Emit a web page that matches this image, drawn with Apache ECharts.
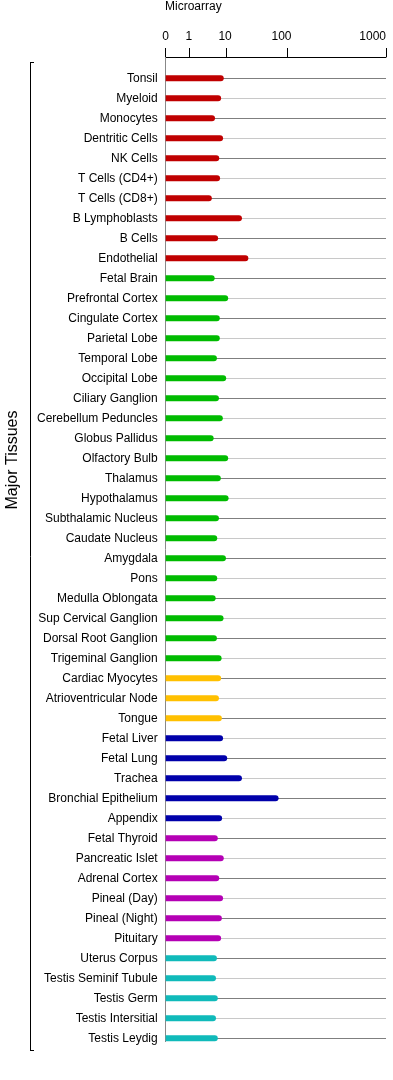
<!DOCTYPE html>
<html>
<head>
<meta charset="utf-8">
<script src="https://cdn.jsdelivr.net/npm/echarts@6/dist/echarts.min.js"></script>
<style>
html,body{margin:0;padding:0;background:#fff;}
#chart{width:393px;height:1080px;}
</style>
</head>
<body>
<div id="chart"></div>
<script>
// ---- data ----
const categories = [
  'Tonsil','Myeloid','Monocytes','Dentritic Cells','NK Cells','T Cells (CD4+)','T Cells (CD8+)','B Lymphoblasts','B Cells','Endothelial',
  'Fetal Brain','Prefrontal Cortex','Cingulate Cortex','Parietal Lobe','Temporal Lobe','Occipital Lobe','Ciliary Ganglion','Cerebellum Peduncles','Globus Pallidus','Olfactory Bulb',
  'Thalamus','Hypothalamus','Subthalamic Nucleus','Caudate Nucleus','Amygdala','Pons','Medulla Oblongata','Sup Cervical Ganglion','Dorsal Root Ganglion','Trigeminal Ganglion',
  'Cardiac Myocytes','Atrioventricular Node','Tongue',
  'Fetal Liver','Fetal Lung','Trachea','Bronchial Epithelium','Appendix',
  'Fetal Thyroid','Pancreatic Islet','Adrenal Cortex','Pineal (Day)','Pineal (Night)','Pituitary',
  'Uterus Corpus','Testis Seminif Tubule','Testis Germ','Testis Intersitial','Testis Leydig'
];
const values = [
  8.7, 7.6, 5.5, 8.4, 6.9, 7.2, 4.6, 20, 6.5, 26,
  5.4, 10.8, 7.1, 7.1, 6.1, 9.8, 6.8, 8.3, 5.1, 10.8,
  7.5, 11, 6.8, 6.2, 9.7, 6.2, 5.7, 8.6, 6.1, 7.8,
  7.6, 6.8, 7.9,
  8.4, 10.3, 20, 76, 8.0,
  6.4, 8.7, 6.9, 8.4, 7.9, 7.6,
  6.1, 5.8, 6.4, 5.8, 6.4
];
const groupSizes = [10, 20, 3, 5, 6, 5];
const groupColors = ['#c00000', '#00bb00', '#ffc000', '#0000aa', '#b400b4', '#10baba'];
const tickValues = [0, 1, 10, 100, 1000];
const tickLabels = ['0', '1', '10', '100', '1000'];
const axisTitle = 'Microarray';
const groupTitle = 'Major Tissues';

// ---- custom scale: 0..1 linear, then decades with widths growing by the golden ratio ----
const PHI = (1 + Math.sqrt(5)) / 2;
function scalePos(v) {
  if (v <= 1) return v;
  const i = 1 + Math.log10(v);
  return (Math.pow(PHI, i) - 1) / (PHI - 1);
}
const tickPos = tickValues.map(scalePos);
const maxPos = scalePos(tickValues[tickValues.length - 1]);

const colors = [];
groupSizes.forEach((n, g) => { for (let k = 0; k < n; k++) colors.push(groupColors[g]); });

const FONT = "'Liberation Sans', Arial, sans-serif";
const chart = echarts.init(document.getElementById('chart'), null, {renderer: 'canvas'});
chart.setOption({
  animation: false,
  backgroundColor: '#fff',
  title: {
    text: axisTitle, left: 165, top: 1, padding: 0,
    textStyle: {fontSize: 12, fontWeight: 'normal', color: '#000', fontFamily: FONT}
  },
  grid: [
    {left: 165.7, width: 220.3, top: 78.3, height: 960, outerBoundsMode: 'none', containLabel: false},
    {left: 30, width: 10, top: 62.7, height: 987.3, outerBoundsMode: 'none', containLabel: false},
    {left: 30, width: 10, top: 360, height: 200, outerBoundsMode: 'none', containLabel: false}
  ],
  xAxis: [
    {
      type: 'value', gridIndex: 0, position: 'top', offset: 21.3,
      min: 0, max: maxPos,
      axisLine: {show: true, lineStyle: {color: '#000', width: 1}},
      axisTick: {show: true, customValues: tickPos, length: 9, lineStyle: {color: '#000'}},
      axisLabel: {
        show: true, customValues: tickPos, margin: 14, alignMaxLabel: 'right',
        fontSize: 12, color: '#000', fontFamily: FONT,
        formatter: function (val) {
          let best = 0;
          tickPos.forEach((p, i) => { if (Math.abs(p - val) < Math.abs(tickPos[best] - val)) best = i; });
          return '{t' + best + '|' + tickLabels[best] + '}';
        },
        rich: {
          t0: {fontSize: 12, fontFamily: FONT, color: '#000'},
          t1: {fontSize: 12, fontFamily: FONT, color: '#000'},
          t2: {fontSize: 12, fontFamily: FONT, color: '#000', padding: [0, 3, 0, 0]},
          t3: {fontSize: 12, fontFamily: FONT, color: '#000', padding: [0, 12, 0, 0]},
          t4: {fontSize: 12, fontFamily: FONT, color: '#000'}
        }
      },
      splitLine: {show: false}
    },
    {
      type: 'value', gridIndex: 0, position: 'top', offset: 21.3,
      min: 0, max: maxPos,
      axisLine: {show: false},
      axisTick: {show: true, customValues: [0], inside: true, length: 985, lineStyle: {color: '#888'}},
      axisLabel: {show: false},
      splitLine: {show: false}
    },
    {type: 'value', gridIndex: 1, show: false},
    {type: 'value', gridIndex: 2, show: false}
  ],
  yAxis: [
    {
      type: 'category', gridIndex: 0, data: categories, inverse: true, boundaryGap: false,
      axisLine: {show: false},
      axisTick: {show: false},
      axisLabel: {fontSize: 12, color: '#000', margin: 8, fontFamily: FONT, interval: 0},
      splitLine: {show: true, lineStyle: {color: ['#7f7f7f', '#c8c8c8'], width: 1}}
    },
    {
      type: 'category', gridIndex: 1, data: [''], boundaryGap: true, position: 'left',
      axisLine: {show: true, lineStyle: {color: '#000', width: 1}},
      axisTick: {show: true, inside: true, length: 4, lineStyle: {color: '#000'}},
      axisLabel: {show: false}
    },
    {
      type: 'category', gridIndex: 2, data: [''], position: 'left',
      axisLine: {show: false}, axisTick: {show: false}, axisLabel: {show: false},
      name: groupTitle, nameLocation: 'middle', nameRotate: 90, nameGap: 9,
      nameTextStyle: {fontSize: 16, color: '#000', fontFamily: FONT}
    }
  ],
  series: [{
    type: 'bar', xAxisIndex: 0, yAxisIndex: 0,
    barWidth: 6,
    data: values.map((v, i) => ({value: scalePos(v), itemStyle: {color: colors[i], borderRadius: [0, 3, 3, 0]}}))
  }]
});
</script>
</body>
</html>
